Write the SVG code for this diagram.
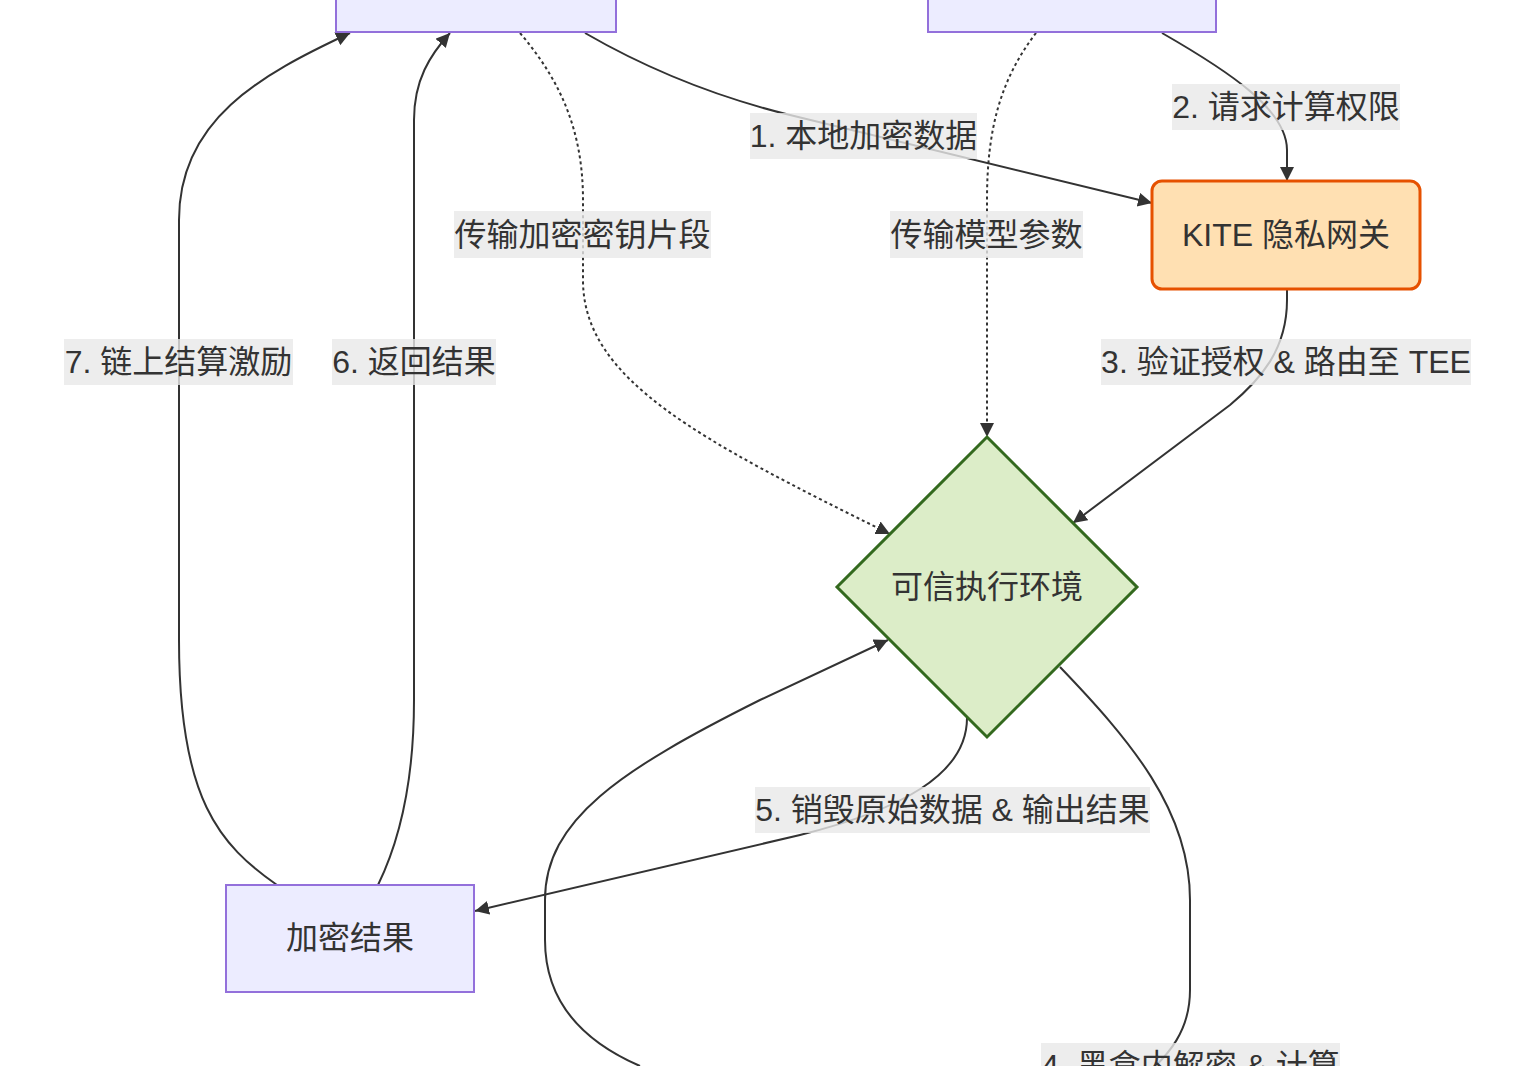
<svg xmlns="http://www.w3.org/2000/svg" width="1536" height="1066" viewBox="0 0 1536 1066">
<style>
text{font-family:"Liberation Sans","Noto Sans CJK SC",sans-serif;font-size:32px;fill:#333;text-anchor:middle}
.node{fill:#ECECFF;stroke:#9370DB;stroke-width:2}
.e{fill:none;stroke:#333;stroke-width:2;marker-end:url(#arr)}
.d{stroke-dasharray:3 3}
.lb{fill:#e8e8e8;fill-opacity:0.8}
</style>
<defs>
<marker id="arr" markerUnits="userSpaceOnUse" markerWidth="16" markerHeight="16" refX="14" refY="7" orient="auto">
<path d="M0,0 L14,7 L0,14 z" fill="#333"/>
</marker>
</defs>
<rect width="1536" height="1066" fill="#fff"/>
<g id="edges">
<path class="e" d="M585,33 Q680,88 790,115 L1152,203"/>
<path class="e" d="M1162,33 C1230,72 1287,110 1287,150 L1287,181"/>
<path class="e" d="M1287,289 L1287,300 C1287,350 1260,380 1230,405 L1073,523"/>
<path class="e" d="M1060,667 C1130,740 1190,810 1190,900 L1190,990 C1190,1030 1170,1055 1140,1080" style="marker-end:none"/>
<path class="e" d="M640,1066 C580,1040 545,1000 545,940 L545,900 C545,820 620,770 760,700 L888,640"/>
<path class="e" d="M967,718 C967,775 900,810 800,835 L475,911"/>
<path class="e" d="M378,885 C400,840 414,780 414,700 L414,120 C414,80 430,55 450,33"/>
<path class="e" d="M277,885 C220,845 179,800 179,640 L179,220 C179,120 260,75 350,33"/>
<path class="e d" d="M520,33 C560,80 583,130 583,200 L583,280 C583,380 700,440 890,534"/>
<path class="e d" d="M1036,33 C1000,80 987,130 987,200 L987,437"/>
</g>
<g id="edge-labels">
<rect class="lb" x="750" y="113" width="227" height="46"/><text x="863.5" y="147">1. 本地加密数据</text>
<rect class="lb" x="1172" y="84" width="228" height="46"/><text x="1286" y="118">2. 请求计算权限</text>
<rect class="lb" x="454" y="211" width="257" height="47"/><text x="582.5" y="246">传输加密密钥片段</text>
<rect class="lb" x="890" y="211" width="193" height="47"/><text x="986.5" y="246">传输模型参数</text>
<rect class="lb" x="1101" y="339" width="370" height="46"/><text x="1286" y="373">3. 验证授权 &amp; 路由至 TEE</text>
<rect class="lb" x="64" y="339" width="229" height="46"/><text x="178.5" y="373">7. 链上结算激励</text>
<rect class="lb" x="332" y="339" width="164" height="46"/><text x="414" y="373">6. 返回结果</text>
<rect class="lb" x="755" y="787" width="395" height="46"/><text x="952.5" y="821">5. 销毁原始数据 &amp; 输出结果</text>
<rect class="lb" x="1041" y="1043" width="299" height="46"/><text x="1190.5" y="1077">4. 黑盒内解密 &amp; 计算</text>
</g>
<g id="node-top-left"><rect class="node" x="336" y="-80" width="280" height="112"/></g>
<g id="node-top-right"><rect class="node" x="928" y="-80" width="288" height="112"/></g>
<g id="node-kite"><rect x="1152" y="181" width="268" height="108" rx="10" fill="#FFE0B2" stroke="#E65100" stroke-width="3"/><text x="1286" y="246">KITE 隐私网关</text></g>
<g id="node-tee"><polygon points="987,437 1137,587 987,737 837,587" fill="#DCEDC8" stroke="#33691E" stroke-width="3"/><text x="987" y="598">可信执行环境</text></g>
<g id="node-result"><rect class="node" x="226" y="885" width="248" height="107"/><text x="350" y="949">加密结果</text></g>
</svg>
